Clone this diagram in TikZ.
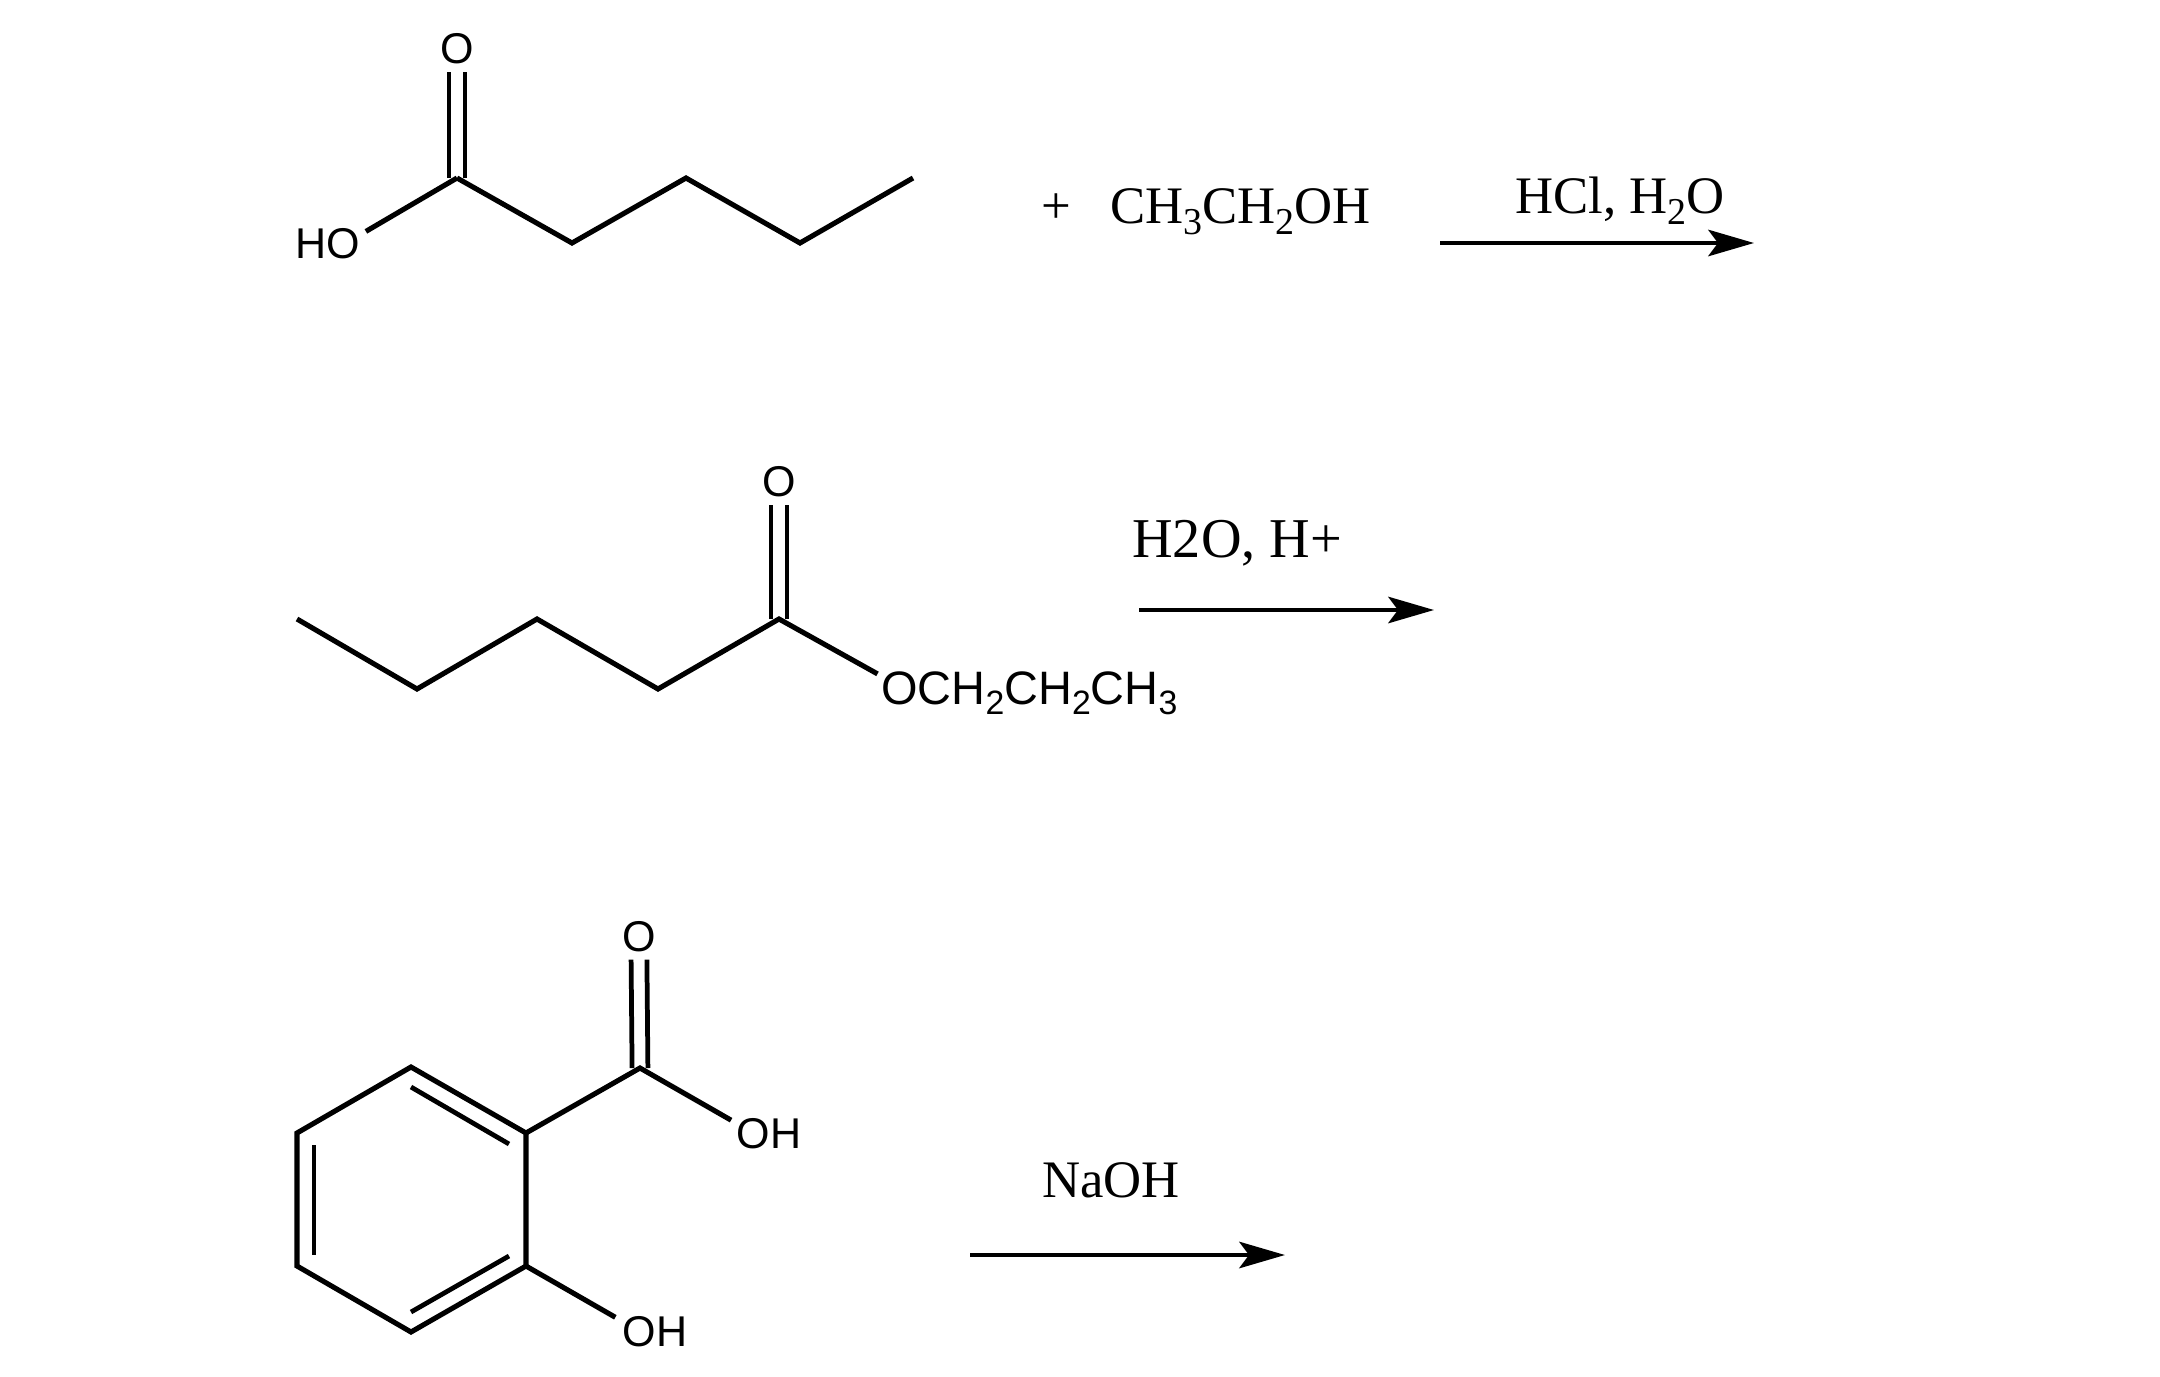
\documentclass[tikz,border=0pt]{standalone}
\usepackage{fontspec}
\setmainfont{Liberation Serif}
\newfontfamily\atomfont{Liberation Sans}
\usetikzlibrary{arrows.meta}
\newcommand{\sbs}[1]{\raisebox{-.22em}{\scalebox{.72}{#1}}}

\begin{document}
\begin{tikzpicture}[x=0.02cm,y=-0.02cm]
\tikzset{bond/.style = {line width=2.9pt,line join=miter}}
\tikzset{thinbond/.style = {line width=2.7pt}}
\tikzset{atom/.style = {inner sep=4pt,font=\atomfont\fontsize{24.5}{28}\selectfont}}
\tikzset{reagent/.style = {inner sep=0pt,anchor=base west,font=\fontsize{30}{34}\selectfont}}
\tikzset{edge/.style = {line width=2.8pt,-{Stealth[length=26pt,width=15pt,inset=5.5pt]}}}
\useasboundingbox (0,0) rectangle (2160,1376);

% first acid
\coordinate (a1) at (457,178);
\coordinate (a2) at (572,243);
\coordinate (a3) at (686,178);
\coordinate (a4) at (800,243);
\coordinate (a5) at (913,178);
\node[atom] (ao) at (457,49) {O};
\node[atom] (aoh) at (328,244) {HO};
\draw[bond] (a1) -- (a2) -- (a3) -- (a4) -- (a5);
\draw[bond] ([yshift=-5.7pt,xshift=-1pt]aoh.north east) -- (a1);
\draw[thinbond] ([xshift=-4.5pt]a1) -- ([xshift=-4.5pt]ao.south);
\draw[thinbond] ([xshift=4.5pt]a1) -- ([xshift=4.5pt]ao.south);

\node[reagent] (plus) at (1041,223) {+};
\node[reagent] (etoh) at (1110,223) {CH\sbs{3}CH\sbs{2}OH};
\node[reagent] (hcl) at (1515,213) {HCl, H\sbs{2}O};
\coordinate (s1) at (1440,243);
\coordinate (t1) at (1754,243);
\draw[edge] (s1) -- (t1);

% ester
\coordinate (b1) at (297,619);
\coordinate (b2) at (417,689);
\coordinate (b3) at (537,619);
\coordinate (b4) at (658,689);
\coordinate (b5) at (779,619);
\node[atom] (bo) at (779,482) {O};
\node[atom,anchor=base west,font=\atomfont\fontsize{26.7}{30}\selectfont] (best) at (874,704) {OCH\sbs{2}CH\sbs{2}CH\sbs{3}};
\draw[bond] (b1) -- (b2) -- (b3) -- (b4) -- (b5) -- ([yshift=-5.7pt,xshift=2pt]best.north west);
\draw[thinbond] ([xshift=-4.5pt]b5) -- ([xshift=-4.5pt]bo.south);
\draw[thinbond] ([xshift=4.5pt]b5) -- ([xshift=4.5pt]bo.south);

\node[reagent,font=\fontsize{32}{36}\selectfont] (hto) at (1132,557) {H2O, H+};
\coordinate (s2) at (1139,610);
\coordinate (t2) at (1434,610);
\draw[edge] (s2) -- (t2);

% salicylic acid
\coordinate (r1) at (411,1067);
\coordinate (r2) at (297,1133);
\coordinate (r3) at (297,1266);
\coordinate (r4) at (411,1332);
\coordinate (r5) at (526,1266);
\coordinate (r6) at (526,1133);
\coordinate (c1) at (640,1068);
\coordinate (i1) at (411,1087);
\coordinate (i2) at (509,1144);
\coordinate (i3) at (314,1145);
\coordinate (i4) at (314,1255);
\coordinate (i5) at (411,1312);
\coordinate (i6) at (509,1256);
\node[atom] (co) at (639,937) {O};
\node[atom] (coh) at (769,1134) {OH};
\node[atom] (roh) at (655,1332) {OH};
\draw[bond] (r1) -- (r2) -- (r3) -- (r4) -- (r5) -- (r6) -- cycle;
\draw[bond] (r6) -- (c1) -- ([yshift=-5pt,xshift=1pt]coh.north west);
\draw[bond] (r5) -- ([yshift=-4.5pt]roh.north west);
\draw[thinbond] ([xshift=-4.5pt]c1) -- ([xshift=-4.5pt]co.south);
\draw[thinbond] ([xshift=4.5pt]c1) -- ([xshift=4.5pt]co.south);
\draw[thinbond] (i1) -- (i2);
\draw[thinbond] (i3) -- (i4);
\draw[thinbond] (i5) -- (i6);

\node[reagent] (naoh) at (1042,1197) {NaOH};
\coordinate (s3) at (970,1255);
\coordinate (t3) at (1285,1255);
\draw[edge] (s3) -- (t3);
\end{tikzpicture}
\end{document}
